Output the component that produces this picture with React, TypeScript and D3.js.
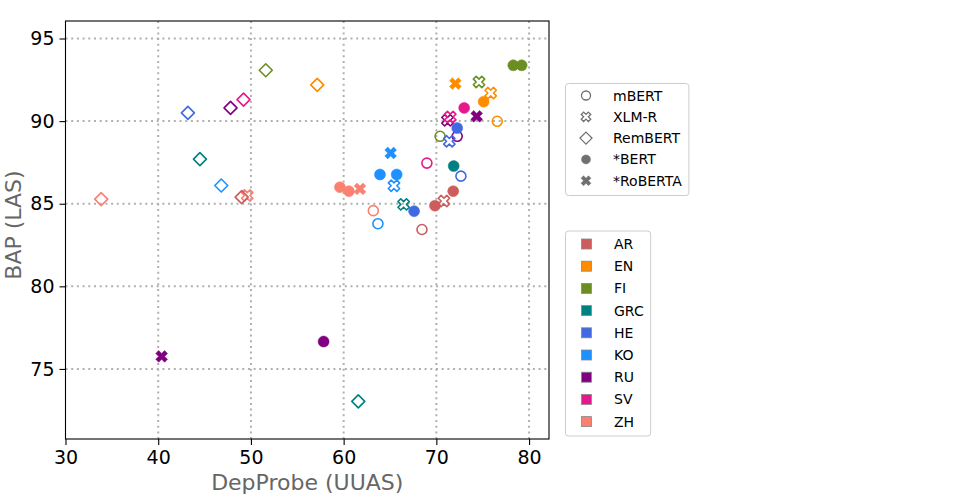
import * as d3 from "d3";
import React, { useEffect, useRef } from "react";

// languages and their colours
const languages = ["AR", "EN", "FI", "GRC", "HE", "KO", "RU", "SV", "ZH"];
const langColors = ["#cd5c5c", "#ff8c00", "#6b8e23", "#008080", "#4169e1", "#1e90ff", "#800080", "#e6198c", "#fa8072"];

const models = ["mBERT", "XLM-R", "RemBERT", "*BERT", "*RoBERTA"];

const xTicks = [30, 40, 50, 60, 70, 80];
const yTicks = [75, 80, 85, 90, 95];

// [language, DepProbe UUAS, BAP LAS]
type Pt = [string, number, number];

const mbertPoints: Pt[] = [
  ["AR", 68.45, 83.44],
  ["EN", 76.57, 89.99],
  ["FI", 70.4, 89.08],
  ["HE", 72.65, 86.67],
  ["KO", 63.7, 83.79],
  ["RU", 72.25, 89.08],
  ["SV", 68.98, 87.46],
  ["ZH", 63.2, 84.58],
];

const xlmrPoints: Pt[] = [
  ["AR", 70.82, 85.16],
  ["EN", 75.86, 91.7],
  ["FI", 74.6, 92.37],
  ["GRC", 66.47, 84.96],
  ["HE", 71.4, 88.78],
  ["KO", 65.43, 86.09],
  ["RU", 71.2, 90.05],
  ["SV", 71.5, 90.25],
  ["ZH", 49.6, 85.5],
];

const rembertPoints: Pt[] = [
  ["AR", 49.0, 85.4],
  ["EN", 57.15, 92.19],
  ["FI", 51.6, 93.08],
  ["GRC", 44.5, 87.7],
  ["GRC", 61.58, 73.04],
  ["HE", 43.2, 90.5],
  ["KO", 46.8, 86.1],
  ["RU", 47.8, 90.8],
  ["SV", 49.2, 91.3],
  ["ZH", 33.85, 85.28],
];

const bertPoints: Pt[] = [
  ["AR", 71.82, 85.76],
  ["AR", 69.85, 84.88],
  ["EN", 75.1, 91.18],
  ["FI", 78.3, 93.38],
  ["FI", 79.2, 93.38],
  ["GRC", 71.87, 87.28],
  ["HE", 72.25, 89.58],
  ["HE", 67.6, 84.55],
  ["KO", 63.92, 86.77],
  ["KO", 65.72, 86.77],
  ["RU", 57.84, 76.66],
  ["SV", 73.0, 90.8],
  ["ZH", 59.6, 86.0],
  ["ZH", 60.57, 85.76],
];

const robertaPoints: Pt[] = [
  ["EN", 72.05, 92.27],
  ["KO", 65.07, 88.07],
  ["RU", 74.35, 90.29],
  ["RU", 40.37, 75.76],
  ["ZH", 61.76, 85.9],
];

const FONT = "DejaVu Sans, sans-serif";

// matplotlib style 'X' marker (a plus rotated by 45 degrees)
function xPath(size: number) {
  const raw = [[-1, -3], [1, -3], [1, -1], [3, -1], [3, 1], [1, 1], [1, 3], [-1, 3], [-1, 1], [-3, 1], [-3, -1], [-1, -1]];
  const c = Math.cos(Math.PI / 4), s = Math.sin(Math.PI / 4);
  const pts = raw.map(([a, b]) => {
    const px = (a * size) / 6, py = (b * size) / 6;
    return [px * c - py * s, px * s + py * c];
  });
  return "M" + pts.map(p => p.join(",")).join("L") + "Z";
}

function diamondPath(r: number) {
  return `M0,${-r}L${r},0L0,${r}L${-r},0Z`;
}

function circlePath(r: number) {
  return `M${r},0A${r},${r} 0 1,1 ${-r},0A${r},${r} 0 1,1 ${r},0Z`;
}

const App: React.FC = () => {
  const svgRef = useRef<SVGSVGElement | null>(null);

  useEffect(() => {
    if (!svgRef.current) {
      return;
    }
    const svg = d3.select(svgRef.current);
    svg.selectAll("*").remove();

    const left = 65.5, right = 549, top = 21, bottom = 439;

    const x = d3.scaleLinear().domain([30, 82.15]).range([left, right]);
    const y = d3.scaleLinear().domain([70.76, 96.06]).range([bottom, top]);
    const color = d3.scaleOrdinal<string, string>().domain(languages).range(langColors);

    svg.append("rect").attr("width", 970).attr("height", 495).attr("fill", "#fff");

    // grid
    const grid = svg.append("g");
    grid.selectAll(".gx")
      .data(xTicks.filter(t => t > 30))
      .enter().append("line")
      .attr("x1", d => x(d)).attr("x2", d => x(d))
      .attr("y1", top).attr("y2", bottom);
    grid.selectAll(".gy")
      .data(yTicks)
      .enter().append("line")
      .attr("x1", left).attr("x2", right)
      .attr("y1", d => y(d)).attr("y2", d => y(d));
    grid.selectAll("line")
      .attr("stroke", "#b0b0b0")
      .attr("stroke-width", 2)
      .attr("stroke-dasharray", "2,3.7");

    // axes
    const xAxis = svg.append("g")
      .attr("transform", `translate(0,${bottom})`)
      .call(d3.axisBottom(x).tickValues(xTicks).tickSize(6).tickPadding(4).tickFormat(d3.format("d")));
    const yAxis = svg.append("g")
      .attr("transform", `translate(${left},0)`)
      .call(d3.axisLeft(y).tickValues(yTicks).tickSize(6).tickPadding(5).tickFormat(d3.format("d")));
    [xAxis, yAxis].forEach(a => {
      a.select(".domain").remove();
      a.selectAll("line").attr("stroke", "#000").attr("stroke-width", 1.1);
      a.selectAll("text").attr("font-family", FONT).attr("font-size", 19).attr("fill", "#000");
    });
    xAxis.selectAll("text").attr("dy", "0.8em");

    // markers
    const marks = svg.append("g");
    const drawSet = (pts: Pt[], d: string, filled: boolean) => {
      marks.selectAll(null)
        .data(pts)
        .enter().append("path")
        .attr("d", d)
        .attr("transform", p => `translate(${x(p[1])},${y(p[2])})`)
        .attr("fill", p => (filled ? color(p[0]) : "none"))
        .attr("stroke", p => color(p[0]))
        .attr("stroke-width", filled ? 0.5 : 1.6)
        .attr("stroke-linejoin", "round");
    };
    drawSet(mbertPoints, circlePath(5), false);
    drawSet(xlmrPoints, xPath(12), false);
    drawSet(rembertPoints, diamondPath(6.5), false);
    drawSet(bertPoints, circlePath(5.5), true);
    drawSet(robertaPoints, xPath(12.5), true);

    // spines
    svg.append("rect")
      .attr("x", left).attr("y", top)
      .attr("width", right - left).attr("height", bottom - top)
      .attr("fill", "none").attr("stroke", "#000").attr("stroke-width", 1.1);

    // axis labels
    svg.append("text")
      .attr("x", (left + right) / 2).attr("y", 490)
      .attr("text-anchor", "middle")
      .attr("font-family", FONT).attr("font-size", 22).attr("fill", "#666")
      .text("DepProbe (UUAS)");
    svg.append("text")
      .attr("transform", `translate(21,225) rotate(-90)`)
      .attr("text-anchor", "middle")
      .attr("font-family", FONT).attr("font-size", 22).attr("fill", "#666")
      .text("BAP (LAS)");

    // legend of models
    const modelShapes = [
      { d: circlePath(4.5), filled: false },
      { d: xPath(10), filled: false },
      { d: diamondPath(6), filled: false },
      { d: circlePath(4.5), filled: true },
      { d: xPath(10.5), filled: true },
    ];
    const leg1 = svg.append("g");
    const leg1Frame = leg1.append("rect");
    models.forEach((m, i) => {
      const cy = 95.5 + i * 21.3;
      const shp = modelShapes[i];
      leg1.append("path")
        .attr("d", shp.d)
        .attr("transform", `translate(586,${cy})`)
        .attr("fill", shp.filled ? "#707070" : "none")
        .attr("stroke", "#707070")
        .attr("stroke-width", shp.filled ? 0.5 : 1.3);
      leg1.append("text")
        .attr("x", 613).attr("y", cy).attr("dy", "0.36em")
        .attr("font-family", FONT).attr("font-size", 14).attr("fill", "#000")
        .text(m);
    });
    const w1 = d3.max(leg1.selectAll<SVGTextElement, unknown>("text").nodes(), n => n.getComputedTextLength()) ?? 70;
    leg1Frame
      .attr("x", 565.5).attr("y", 83.5)
      .attr("width", 613 + w1 + 7 - 565.5).attr("height", 112)
      .attr("rx", 3).attr("fill", "#fff").attr("stroke", "#cccccc").attr("stroke-width", 1);

    // legend of languages
    const leg2 = svg.append("g");
    const leg2Frame = leg2.append("rect");
    languages.forEach((l, i) => {
      const cy = 244 + i * 22.2;
      leg2.append("rect")
        .attr("x", 581.5).attr("y", cy - 5).attr("width", 10).attr("height", 10)
        .attr("fill", color(l)).attr("stroke", "#888").attr("stroke-width", 0.8);
      leg2.append("text")
        .attr("x", 614).attr("y", cy).attr("dy", "0.36em")
        .attr("font-family", FONT).attr("font-size", 14).attr("fill", "#000")
        .text(l);
    });
    const w2 = d3.max(leg2.selectAll<SVGTextElement, unknown>("text").nodes(), n => n.getComputedTextLength()) ?? 30;
    leg2Frame
      .attr("x", 565.5).attr("y", 231)
      .attr("width", 614 + w2 + 7 - 565.5).attr("height", 205)
      .attr("rx", 3).attr("fill", "#fff").attr("stroke", "#cccccc").attr("stroke-width", 1);
  }, []);

  return (
    <svg
      ref={svgRef}
      width={970}
      height={495}
      style={{ position: "absolute", left: 0, top: 0 }}
    />
  );
};

export default App;
